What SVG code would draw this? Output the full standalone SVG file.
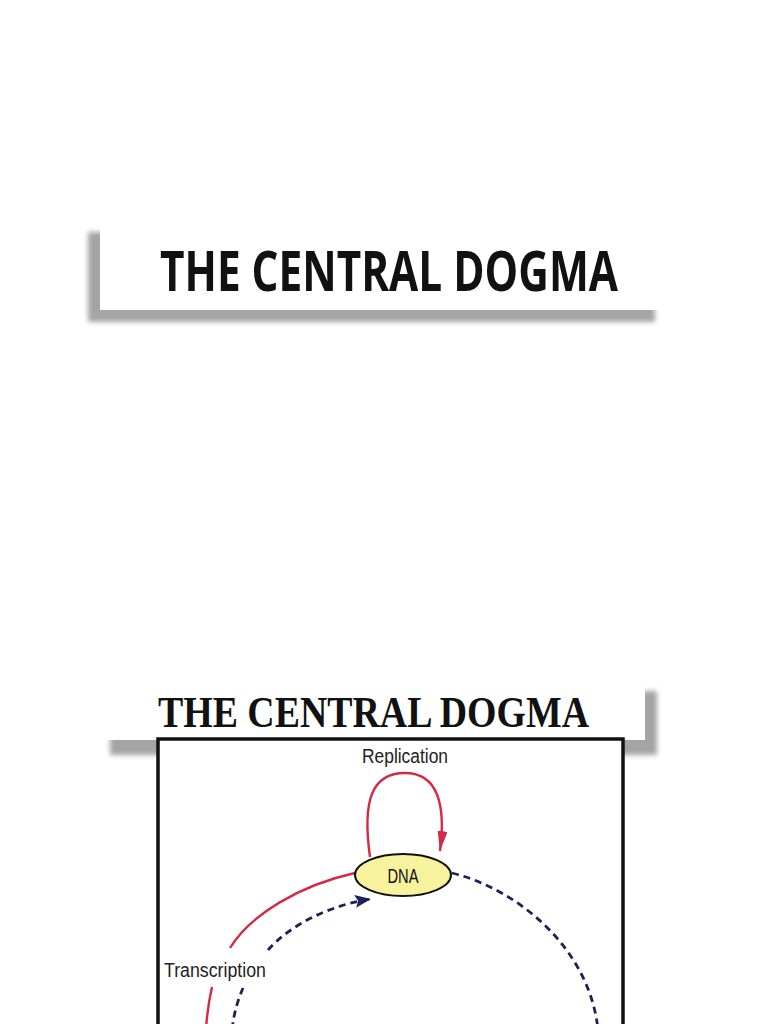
<svg xmlns="http://www.w3.org/2000/svg" width="768" height="1024" viewBox="0 0 768 1024">
<style>
.lbl{font-family:"Liberation Sans",Arial,sans-serif;font-size:20px;fill:#222}
.red{fill:none;stroke:#d42a45;stroke-width:2.4}
.blue{fill:none;stroke:#1c2158;stroke-width:2.8;stroke-dasharray:7,5}
</style>
<defs>
<filter id="blur" x="-10%" y="-30%" width="120%" height="160%"><feGaussianBlur stdDeviation="2.5"/></filter>
<marker id="ar" viewBox="0 0 20 10" refX="20" refY="5" markerWidth="20" markerHeight="10" markerUnits="userSpaceOnUse" orient="auto"><path d="M0,0 L20,5 L0,10 z" fill="#d42a45"/></marker>
<marker id="ab" viewBox="0 0 16 13" refX="16" refY="6.5" markerWidth="16" markerHeight="13" markerUnits="userSpaceOnUse" orient="auto"><path d="M0,0 L16,6.5 L0,13 L3,6.5 z" fill="#1c2158"/></marker>
</defs>
<rect width="768" height="1024" fill="#fff"/>
<g id="banner1">
<rect x="88" y="232" width="567" height="90" fill="#a4a4a4" filter="url(#blur)"/>
<rect x="100" y="223" width="565" height="87" fill="#fff"/>
<text x="160" y="291" font-family="'Open Sans','Liberation Sans',sans-serif" font-weight="bold" font-size="56" textLength="458" lengthAdjust="spacingAndGlyphs" fill="#111">THE CENTRAL DOGMA</text>
</g>
<g id="banner2">
<rect x="110" y="691" width="547" height="64" fill="#a4a4a4" filter="url(#blur)"/>
<rect x="105" y="684" width="540" height="56" fill="#fff"/>
<text x="158" y="727" font-family="'Liberation Serif','Times New Roman',serif" font-weight="bold" font-size="45" textLength="431" lengthAdjust="spacingAndGlyphs" fill="#111">THE CENTRAL DOGMA</text>
</g>
<g id="frame">
<rect x="158" y="739" width="465" height="330" fill="#fff" stroke="#111" stroke-width="3.5"/>
</g>
<g id="connectors">
<path class="red" d="M370,857 C362,800 372,773 405,773 C438,773 446,805 440,851" marker-end="url(#ar)"/>
<path class="red" d="M355,873 C300,885 250,915 230,948"/>
<path class="red" d="M212,987 C209,1000 207,1012 206,1030"/>
<path class="blue" d="M268,950 C290,925 330,905 371,899" marker-end="url(#ab)"/>
<path class="blue" d="M243,988 C238,1000 234,1012 232,1030"/>
<path class="blue" d="M452,873 C520,890 590,950 598,1030"/>
<text class="lbl" x="362" y="763" textLength="86" lengthAdjust="spacingAndGlyphs">Replication</text>
<text class="lbl" x="164" y="977" textLength="102" lengthAdjust="spacingAndGlyphs">Transcription</text>
</g>
<g id="dna">
<ellipse cx="403" cy="875" rx="48" ry="21" fill="#f6f29e" stroke="#111" stroke-width="2"/>
<text x="403" y="883" text-anchor="middle" font-family="'Liberation Sans',Arial,sans-serif" font-size="21" textLength="31" lengthAdjust="spacingAndGlyphs" fill="#111">DNA</text>
</g>
</svg>
